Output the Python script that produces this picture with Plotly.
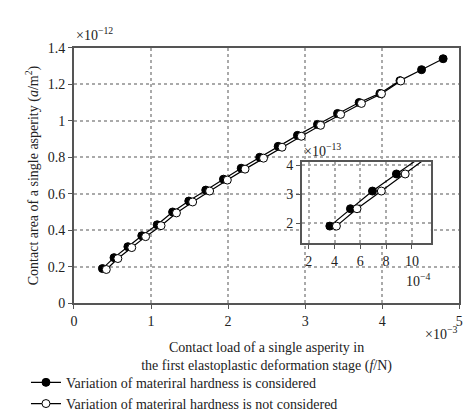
import plotly.graph_objects as go

# main plot data (x in 1e-3 N, y in 1e-12 m^2)
x_on = [0.37,0.52,0.70,0.88,1.08,1.28,1.49,1.71,1.94,2.17,2.41,2.65,2.90,3.16,3.42,3.70,3.97,4.23,4.51,4.79]
y_on = [0.19,0.25,0.31,0.37,0.43,0.50,0.56,0.62,0.68,0.74,0.80,0.86,0.92,0.98,1.04,1.10,1.15,1.22,1.28,1.34]
x_off = [0.42,0.57,0.75,0.93,1.13,1.33,1.54,1.76,1.99,2.22,2.46,2.70,2.95,3.20,3.46,3.73,3.99,4.24]
y_off = [0.185,0.245,0.305,0.365,0.425,0.495,0.555,0.615,0.675,0.735,0.795,0.855,0.915,0.975,1.035,1.095,1.148,1.218]

# inset data (x in 1e-4 N, y in 1e-13 m^2)
ix_on = [3.63,5.23,6.94,8.80]
iy_on = [1.90,2.50,3.11,3.70]
ix_off = [4.14,5.74,7.63,9.48]
iy_off = [1.90,2.50,3.11,3.70]
ix_on_line = [3.63,5.23,6.94,8.80,10.2]
iy_on_line = [1.90,2.50,3.11,3.70,4.13]
ix_off_line = [4.14,5.74,7.63,9.48,10.75]
iy_off_line = [1.90,2.50,3.11,3.70,4.13]

font = "Liberation Serif"
fig = go.Figure()
mk = dict(size=8, line=dict(color="black", width=1))
fig.add_trace(go.Scatter(x=x_on, y=y_on, mode="lines+markers", name="Variation of materiral hardness is considered",
                         line=dict(color="black", width=1.2), marker=dict(color="black", **mk)))
fig.add_trace(go.Scatter(x=x_off, y=y_off, mode="lines+markers", name="Variation of materiral hardness is not considered",
                         line=dict(color="black", width=1.2), marker=dict(color="white", **mk)))
fig.add_trace(go.Scatter(x=ix_on_line, y=iy_on_line, mode="lines", xaxis="x2", yaxis="y2",
                         line=dict(color="black", width=1.2), showlegend=False))
fig.add_trace(go.Scatter(x=ix_off_line, y=iy_off_line, mode="lines", xaxis="x2", yaxis="y2",
                         line=dict(color="black", width=1.2), showlegend=False))
fig.add_trace(go.Scatter(x=ix_on, y=iy_on, mode="markers", xaxis="x2", yaxis="y2",
                         marker=dict(color="black", **mk), showlegend=False))
fig.add_trace(go.Scatter(x=ix_off, y=iy_off, mode="markers", xaxis="x2", yaxis="y2",
                         marker=dict(color="white", **mk), showlegend=False))

ax = dict(showline=True, linecolor="#555", linewidth=2, mirror=True, ticks="outside", tickcolor="#555",
          ticklen=4, showgrid=True, gridcolor="#aaa", griddash="dot", gridwidth=1.5, zeroline=False,
          tickfont=dict(family=font, size=14, color="#222"))
fig.update_layout(
    width=474, height=417, margin=dict(l=0, r=0, t=0, b=0),
    plot_bgcolor="white", paper_bgcolor="white",
    font=dict(family=font, size=14, color="#222"),
    xaxis=dict(domain=[63/474, 455/474], range=[0, 5], dtick=1, **ax,
               title=dict(text="Contact load of a single asperity in<br>the first elastoplastic deformation stage (<i>f</i>/N)",
                          font=dict(family=font, size=14), standoff=14)),
    yaxis=dict(domain=[1-299/417, 1-34/417], range=[0, 1.4], dtick=0.2, **ax,
               title=dict(text="Contact area of a single asperity (<i>a</i>/m<sup>2</sup>)",
                          font=dict(family=font, size=14), standoff=6)),
    xaxis2=dict(domain=[295/474, 426/474], range=[1.47, 11.47], tickvals=[2,4,6,8,10], anchor="y2", **ax),
    yaxis2=dict(domain=[1-237/417, 1-152/417], range=[1.3, 4.13], tickvals=[2,3,4], anchor="x2", **ax),
    legend=dict(x=0.03, y=0.125, xanchor="left", yanchor="top", font=dict(family=font, size=14),
                bgcolor="rgba(0,0,0,0)", tracegroupgap=0),
    annotations=[
        dict(text="×10<sup>−12</sup>", x=63/474, y=1-20/417, xref="paper", yref="paper", xanchor="left", yanchor="middle", showarrow=False),
        dict(text="×10<sup>−3</sup>", x=455/474, y=1-330/417, xref="paper", yref="paper", xanchor="right", yanchor="middle", showarrow=False),
        dict(text="×10<sup>−13</sup>", x=295/474, y=1-140/417, xref="paper", yref="paper", xanchor="left", yanchor="middle", showarrow=False),
        dict(text="10<sup>−4</sup>", x=428/474, y=1-275/417, xref="paper", yref="paper", xanchor="right", yanchor="middle", showarrow=False),
    ],
)
fig.add_shape(type="rect", xref="paper", yref="paper", x0=295/474, x1=426/474, y0=1-237/417, y1=1-152/417,
              fillcolor="white", line=dict(width=0), layer="between")
fig.write_html("out.html")
